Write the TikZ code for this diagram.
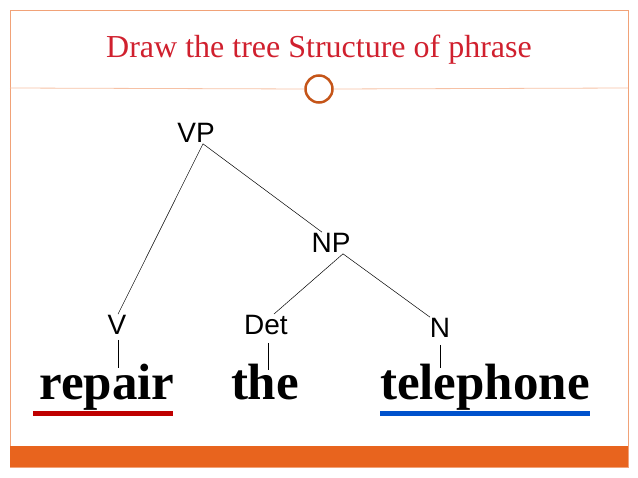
\documentclass[tikz,border=0pt]{standalone}
\usepackage{fontspec}
\setmainfont{Liberation Serif}
\setsansfont{Liberation Sans}
\begin{document}
\begin{tikzpicture}[x=1pt,y=-1pt,
  cat/.style={font=\sffamily\fontsize{28}{32}\selectfont,inner sep=1pt},
  word/.style={font=\bfseries\fontsize{51}{56}\selectfont,inner sep=0pt,anchor=base},
  br/.style={draw=black,line width=0.5pt}]
\useasboundingbox (0,0) rectangle (638,478);
\definecolor{orng}{HTML}{E8641E}
\definecolor{ttl}{HTML}{D0202E}
\draw[orng!60,line width=0.8pt] (10,10) rectangle (628,467);
\fill[orng] (10,446) rectangle (628,467);
\node[text=ttl,font=\fontsize{32}{36}\selectfont] (title) at (319,50) {Draw the tree Structure of phrase};
\node[draw=orng!85!black,line width=2.5pt,circle,minimum size=27pt,inner sep=0pt] (circ) at (319,89) {};
\draw[orng!40,line width=0.8pt] (10,88) -- (circ.west);
\draw[orng!40,line width=0.8pt] (circ.east) -- (628,88);
\node[cat] (VP) at (196,133) {VP};
\node[cat] (NP) at (331,243) {NP};
\node[cat] (V) at (117,325) {V};
\node[cat] (Det) at (266,325) {Det};
\node[cat] (N) at (440,328) {N};
\node[word] (w1) at (107,400) {repair};
\node[word] (w2) at (265,400) {the};
\node[word] (w3) at (485,400) {telephone};
\coordinate (vpb) at ([xshift=7pt]VP.south);
\coordinate (npb) at ([xshift=12pt]NP.south);
\draw[br] (vpb) -- ([xshift=1pt]V.north);
\draw[br] (vpb) -- ([xshift=-9pt]NP.north);
\draw[br] (npb) -- ([xshift=8pt]Det.north);
\draw[br] (npb) -- ([xshift=-10pt]N.north);
\draw[br] (118,340) -- (118,368);
\draw[br] (268,343) -- (268,370);
\draw[br] (440,345) -- (440,368);
\fill[red!75!black] (33,411) rectangle (173,416);
\fill[blue!60!cyan!80!black] (380,411) rectangle (590,416);
\end{tikzpicture}
\end{document}
